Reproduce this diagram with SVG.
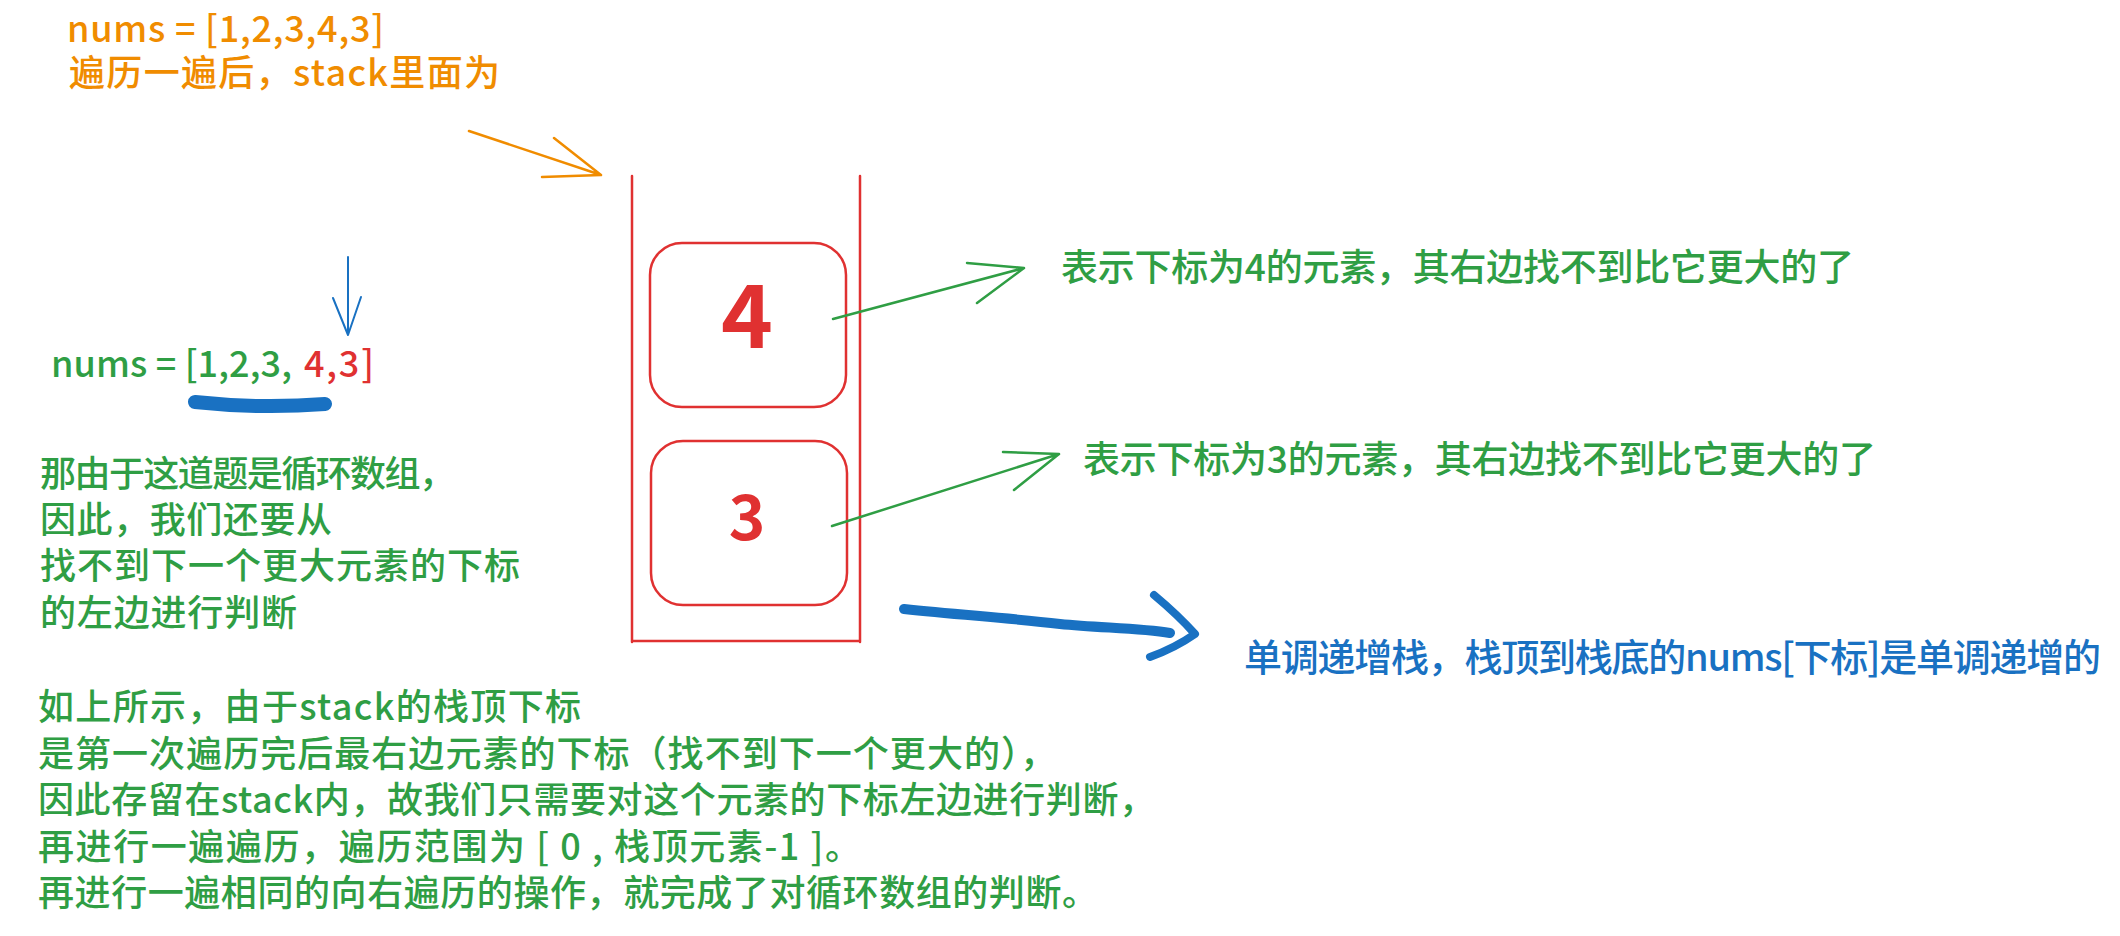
<svg xmlns="http://www.w3.org/2000/svg" width="2120" height="936" viewBox="0 0 2120 936">
<style>
text{font-family:"Noto Sans CJK SC","Noto Sans",sans-serif;font-size:36px;font-weight:500}
.o{fill:#f08c00}.g{fill:#2f9e44}.r{fill:#e03131}.b{fill:#1971c2}
.lab{font-size:37px}.mono{font-size:38px}
.d4{font-size:88px;font-weight:bold}.d3{font-size:62px;font-weight:bold}
.ln{fill:none;stroke-linecap:round;stroke-linejoin:round}
.so{stroke:#f08c00;stroke-width:2.5}.sg{stroke:#2f9e44;stroke-width:2.5}
.sr{stroke:#e03131;stroke-width:2.5}.sb{stroke:#1971c2}
</style>
<rect width="2120" height="936" fill="#ffffff"/>
<g id="title">
<text class="o"><tspan x="67" y="42" textLength="317" lengthAdjust="spacing">nums = [1,2,3,4,3]</tspan><tspan x="69" y="86" textLength="431" lengthAdjust="spacing">遍历一遍后，stack里面为</tspan></text>
</g>
<g id="stack">
<path class="ln sr" d="M632 176 L632 642 M860 176 L860 642 M633 641 L860 641"/>
</g>
<g id="node4">
<rect x="650" y="243" width="196" height="164" rx="32" class="ln sr"/>
<text class="r d4" x="747" y="348" text-anchor="middle">4</text>
</g>
<g id="node3">
<rect x="651" y="441" width="196" height="164" rx="32" class="ln sr"/>
<text class="r d3" x="747" y="540" text-anchor="middle">3</text>
</g>
<g id="nums">
<text class="g" x="51" y="377"><tspan textLength="241" lengthAdjust="spacing">nums = [1,2,3,</tspan><tspan class="r" x="304" textLength="70" lengthAdjust="spacing">4,3]</tspan></text>
</g>
<g id="note-left">
<text class="g"><tspan x="40" y="487" textLength="415" lengthAdjust="spacing">那由于这道题是循环数组，</tspan><tspan x="40" y="533" textLength="292" lengthAdjust="spacing">因此，我们还要从</tspan><tspan x="40" y="579" textLength="480" lengthAdjust="spacing">找不到下一个更大元素的下标</tspan><tspan x="40" y="626" textLength="257" lengthAdjust="spacing">的左边进行判断</tspan></text>
</g>
<g id="note-bottom">
<text class="g"><tspan x="38" y="720" textLength="543" lengthAdjust="spacing">如上所示，由于stack的栈顶下标</tspan><tspan x="38" y="767" textLength="1018" lengthAdjust="spacing">是第一次遍历完后最右边元素的下标（找不到下一个更大的），</tspan><tspan x="38" y="813" textLength="1117" lengthAdjust="spacing">因此存留在stack内，故我们只需要对这个元素的下标左边进行判断，</tspan><tspan x="38" y="860" textLength="823" lengthAdjust="spacing">再进行一遍遍历，遍历范围为 [ 0 , 栈顶元素-1 ]。</tspan><tspan x="38" y="906" textLength="1060" lengthAdjust="spacing">再进行一遍相同的向右遍历的操作，就完成了对循环数组的判断。</tspan></text>
</g>
<g id="label4">
<text class="g lab" x="1061" y="281" textLength="793" lengthAdjust="spacing">表示下标为4的元素，其右边找不到比它更大的了</text>
</g>
<g id="label3">
<text class="g lab" x="1083" y="473" textLength="793" lengthAdjust="spacing">表示下标为3的元素，其右边找不到比它更大的了</text>
</g>
<g id="label-mono">
<text class="b mono" x="1244" y="671" textLength="857" lengthAdjust="spacing">单调递增栈，栈顶到栈底的nums[下标]是单调递增的</text>
</g>
<g id="connectors">
<path class="ln so" d="M469 131 L601 175 M554 138 L601 175 L542 177"/>
<path class="ln sb" stroke-width="2" d="M348 257 L348 335 M333 298 L348 335 L361 297"/>
<path class="ln sb" stroke-width="14" d="M195 402 Q260 409 325 404"/>
<path class="ln sg" d="M833 319 L1024 268 M967 263 L1024 268 L977 303"/>
<path class="ln sg" d="M832 526 L1059 454 M1003 452 L1059 454 L1014 490"/>
<path class="ln sb" stroke-width="10" d="M904 609 C960 615 1010 618 1060 624 C1100 628 1140 628 1170 633"/>
<path class="ln sb" stroke-width="8" d="M1154 595 Q1178 615 1195 634 Q1175 648 1150 657"/>
</g>
</svg>
